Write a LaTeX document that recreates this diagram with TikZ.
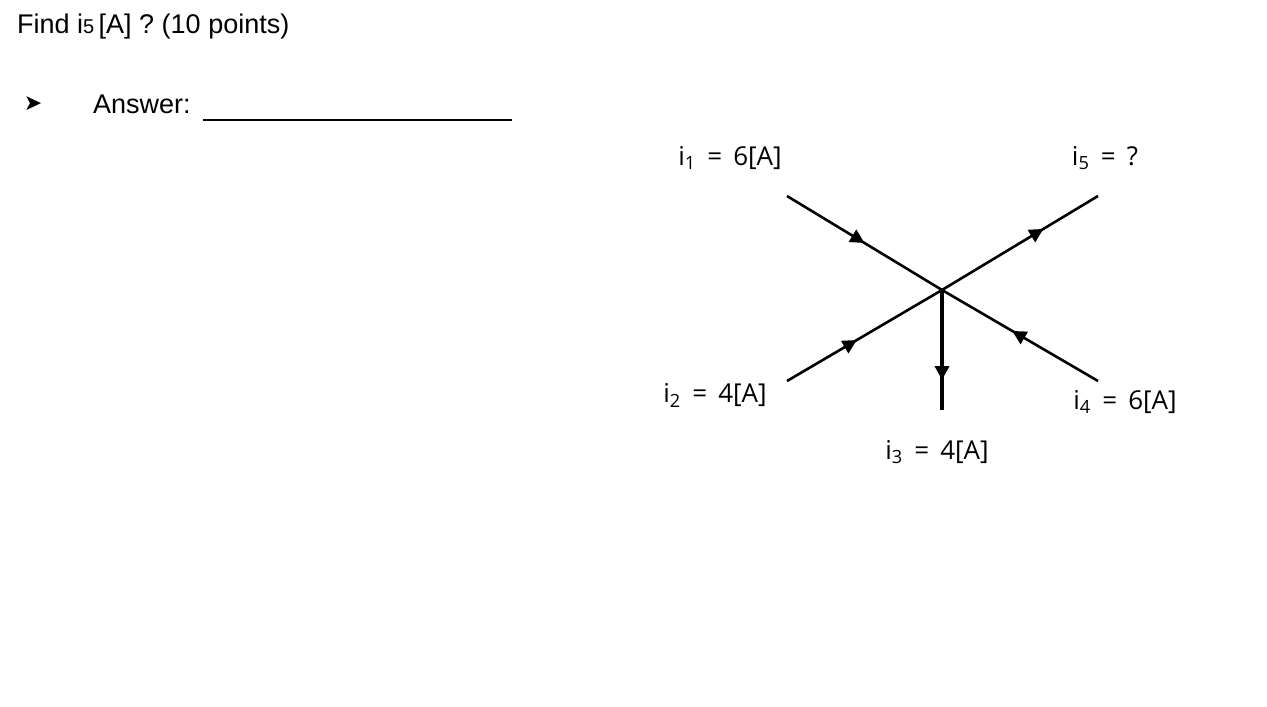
\documentclass[tikz,border=0pt]{standalone}
\usepackage{fontspec}
\setmainfont{Liberation Sans}
\newfontfamily\lbl{Open Sans}
\newfontfamily\djsans{DejaVu Sans}
\usetikzlibrary{decorations.markings,arrows.meta}
\begin{document}
\begin{tikzpicture}[x=0.5pt,y=-0.5pt,
  wire/.style={line width=1.3pt},
  arr/.style={postaction={decorate},decoration={markings,mark=at position #1 with {\arrow{Triangle[length=7pt,width=7pt]}}}},
  lab/.style={font=\lbl\fontsize{13}{15}\selectfont,anchor=center}]
\useasboundingbox (0,0) rectangle (1267,706);
\node[anchor=west,font=\fontsize{13.5}{16}\selectfont] (title) at (10,27) {Find i{\fontsize{10}{12}\selectfont 5}\,[A] ? (10 points)};
\node[font=\djsans\fontsize{11}{13}\selectfont] (bul) at (33,104) {➤};
\node[anchor=west,font=\fontsize{13.5}{16}\selectfont] (ans) at (86,104) {Answer:};
\coordinate (u1) at (203,120); \coordinate (u2) at (512,120);
\draw[line width=0.6pt] (u1) -- (u2);
\coordinate (c) at (942,290);
\coordinate (e1) at (787,196);
\coordinate (e5) at (1098,196);
\coordinate (e2) at (787,381);
\coordinate (e4) at (1098,381);
\coordinate (e3) at (942,410);
\draw[wire,arr=0.5] (e1) -- (c);
\draw[wire,arr=0.65] (c) -- (e5);
\draw[wire,arr=0.45] (e2) -- (c);
\draw[wire,arr=0.55] (e4) -- (c);
\draw[line width=2pt,arr=0.75] (c) -- (e3);
\node[lab] (l1) at (730,158) {i\textsubscript{1} \,=\, 6[A]};
\node[lab] (l5) at (1105,158) {i\textsubscript{5} \,=\, ?};
\node[lab] (l2) at (715,395) {i\textsubscript{2} \,=\, 4[A]};
\node[lab] (l4) at (1125,402) {i\textsubscript{4} \,=\, 6[A]};
\node[lab] (l3) at (937,452) {i\textsubscript{3} \,=\, 4[A]};
\end{tikzpicture}
\end{document}
